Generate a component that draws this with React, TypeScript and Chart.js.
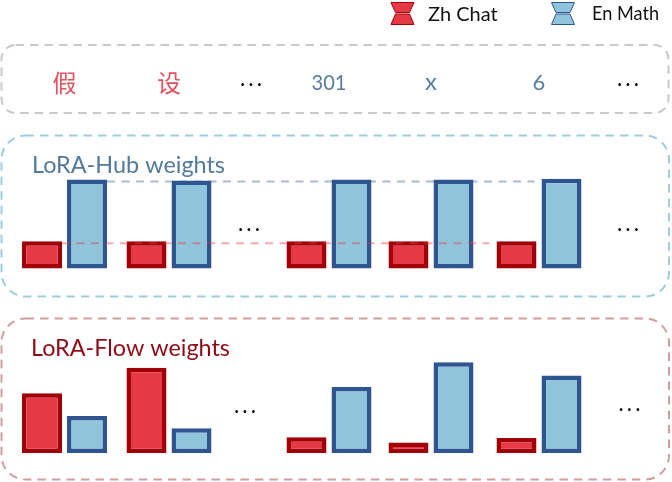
import React, { useEffect, useRef } from "react";
import { CategoryScale, Chart, registerables } from "chart.js";

const tokens = ["假", "设", "...", "301", "x", "6", "..."];
const tokenColors = ["#E2525E", "#E2525E", "#111111", "#5A7E9E", "#5A7E9E", "#5A7E9E", "#111111"];

// relative weight of each token, 1 = height of a tall bar
const hubZhChat = [0.31, 0.31, null, 0.31, 0.31, 0.31, null];
const hubEnMath = [1.01, 1.0, null, 1.01, 1.01, 1.02, null];
const flowZhChat = [0.68, 0.97, null, 0.18, 0.12, 0.17, null];
const flowEnMath = [0.42, 0.28, null, 0.75, 1.03, 0.88, null];

const RED_FILL = "#E63946";
const RED_EDGE = "#A00008";
const BLUE_FILL = "#90C4DB";
const BLUE_EDGE = "#2F5591";

// the tokens are not evenly spaced in the figure
const tokenCenters = [64.5, 169, 250, 329, 431, 539, 627];

class TokenScale extends CategoryScale {
  static id = "tokens";
  getPixelForValue(value: any) {
    const i = typeof value === "number" ? value : (this as any).parse(value);
    return (this as any).left + tokenCenters[i];
  }
}

Chart.register(...registerables, TokenScale as any);

const FONT = "Lato";

function roundedPanel(ctx: CanvasRenderingContext2D, x: number, y: number, w: number, h: number, r: number, color: string) {
  ctx.save();
  ctx.strokeStyle = color;
  ctx.lineWidth = 2;
  ctx.setLineDash([8.5, 6]);
  ctx.beginPath();
  ctx.roundRect(x, y, w, h, r);
  ctx.stroke();
  ctx.restore();
}

function label(ctx: CanvasRenderingContext2D, text: string, x: number, y: number, size: number, color: string, width?: number, font = FONT, weight = 400) {
  ctx.save();
  ctx.font = `${weight} ${size}px "${font}"`;
  ctx.fillStyle = color;
  if (width) ctx.fillText(text, x, y, width);
  else ctx.fillText(text, x, y);
  ctx.restore();
}

function hourglass(ctx: CanvasRenderingContext2D, x: number, fill: string, edge: string) {
  ctx.save();
  ctx.fillStyle = fill;
  ctx.strokeStyle = edge;
  ctx.lineWidth = 1;
  for (const [y0, y1] of [[2.5, 12.5], [24.5, 14]]) {
    ctx.beginPath();
    ctx.moveTo(x, y0);
    ctx.lineTo(x + 23, y0);
    ctx.lineTo(x + 18.5, y1);
    ctx.lineTo(x + 4.5, y1);
    ctx.closePath();
    ctx.fill();
    ctx.stroke();
  }
  ctx.restore();
}

// wide-set dots, the trailing letter space is made up for by the +2
function dots(ctx: CanvasRenderingContext2D, x: number, y: number) {
  ctx.save();
  (ctx as any).letterSpacing = "4px";
  label(ctx, "...", x + 2, y, 18, "#000000", undefined, FONT, 700);
  ctx.restore();
}

const backdrop = {
  id: "backdrop",
  beforeDraw(chart: any) {
    const { ctx, width, height } = chart;
    ctx.save();
    ctx.fillStyle = "#ffffff";
    ctx.fillRect(0, 0, width, height);
    roundedPanel(ctx, 1.5, 45, 667, 68, 14, "#C9C9C9");
    roundedPanel(ctx, 1.5, 135.5, 667.5, 161, 24, "#9FCCDF");
    roundedPanel(ctx, 1.5, 318.5, 667.5, 161, 24, "#D29EA4");

    const x = chart.scales.x;
    ctx.textAlign = "center";
    ctx.textBaseline = "alphabetic";
    tokens.forEach((t, i) => {
      const px = x.getPixelForValue(i);
      if (t === "...") dots(ctx, px + 1, 86);
      else if (i < 2) label(ctx, t, px, 92, 24, tokenColors[i], undefined, "Noto Sans CJK SC");
      else label(ctx, t, px, 90, t === "x" ? 24 : 22, tokenColors[i], t === "301" ? 35 : undefined);
    });

    ctx.textAlign = "left";
    label(ctx, "LoRA-Hub weights", 32, 173, 24, "#537A9B", 193);
    label(ctx, "LoRA-Flow weights", 31, 356, 24, "#8E0B16", 199);
    label(ctx, "Zh Chat", 428, 21, 20, "#111111", 71);
    label(ctx, "En Math", 592, 20, 20, "#111111", 67);
    hourglass(ctx, 391, RED_FILL, RED_EDGE);
    hourglass(ctx, 551.5, BLUE_FILL, BLUE_EDGE);

    ctx.textAlign = "center";
    dots(ctx, x.getPixelForValue(2) - 1, 231);
    dots(ctx, x.getPixelForValue(6) + 1, 231);
    dots(ctx, x.getPixelForValue(2) - 5, 413);
    dots(ctx, x.getPixelForValue(6) + 2.5, 411);
    ctx.restore();
  },
};

// dashed guides across the Lora-Hub bars, level with the first bar of each series
const guides = {
  id: "guides",
  afterDatasetsDraw(chart: any) {
    const { ctx } = chart;
    const draw = (datasetIndex: number, color: string) => {
      const bars = chart.getDatasetMeta(datasetIndex).data;
      const first = bars[0].getProps(["x", "y", "width"], true);
      const last = bars[5].getProps(["x", "width"], true);
      ctx.save();
      ctx.strokeStyle = color;
      ctx.lineWidth = 2;
      ctx.setLineDash([8, 6.5]);
      ctx.beginPath();
      ctx.moveTo(first.x + first.width / 2, first.y + 2);
      ctx.lineTo(last.x - last.width / 2 - 7, first.y + 2);
      ctx.stroke();
      ctx.restore();
    };
    draw(0, "rgba(230, 57, 70, 0.42)");
    draw(1, "rgba(47, 85, 145, 0.4)");
  },
};

export default function App() {
  const canvasRef = useRef<HTMLCanvasElement | null>(null);

  useEffect(() => {
    if (!canvasRef.current) return;
    document.body.style.margin = "0";

    const bar = { borderWidth: 4.5, borderSkipped: false as const };
    const chart = new Chart(canvasRef.current, {
      type: "bar",
      data: {
        labels: tokens,
        datasets: [
          { label: "Zh Chat", data: hubZhChat, stack: "zh", yAxisID: "yHub", backgroundColor: RED_FILL, borderColor: RED_EDGE, ...bar },
          { label: "En Math", data: hubEnMath, stack: "en", yAxisID: "yHub", backgroundColor: BLUE_FILL, borderColor: BLUE_EDGE, ...bar },
          { label: "Zh Chat", data: flowZhChat, stack: "zh", yAxisID: "yFlow", backgroundColor: RED_FILL, borderColor: RED_EDGE, ...bar },
          { label: "En Math", data: flowEnMath, stack: "en", yAxisID: "yFlow", backgroundColor: BLUE_FILL, borderColor: BLUE_EDGE, ...bar },
        ] as any,
      },
      options: {
        responsive: false,
        animation: false,
        events: [],
        layout: { padding: 0 },
        // 79px is the narrowest gap between tokens: 45px per bar slot, 40px bars
        categoryPercentage: 90 / 79,
        barPercentage: 40 / 45,
        scales: {
          x: { type: "tokens" as any, display: false },
          // left-hand stacks are laid out bottom first
          yFlow: { type: "linear", position: "left", stack: "rows", stackWeight: 177, min: -0.33, max: 1.682, display: false },
          yHub: { type: "linear", position: "left", stack: "rows", stackWeight: 305, min: -0.415, max: 3.05, display: false },
        },
        plugins: {
          legend: { display: false },
          tooltip: { enabled: false },
        },
      } as any,
      plugins: [backdrop, guides],
    });

    return () => {
      chart.destroy();
    };
  }, []);

  return (
    <div style={{ width: 672, height: 482 }}>
      <canvas ref={canvasRef} width={672} height={482} style={{ display: "block" }} />
    </div>
  );
}
